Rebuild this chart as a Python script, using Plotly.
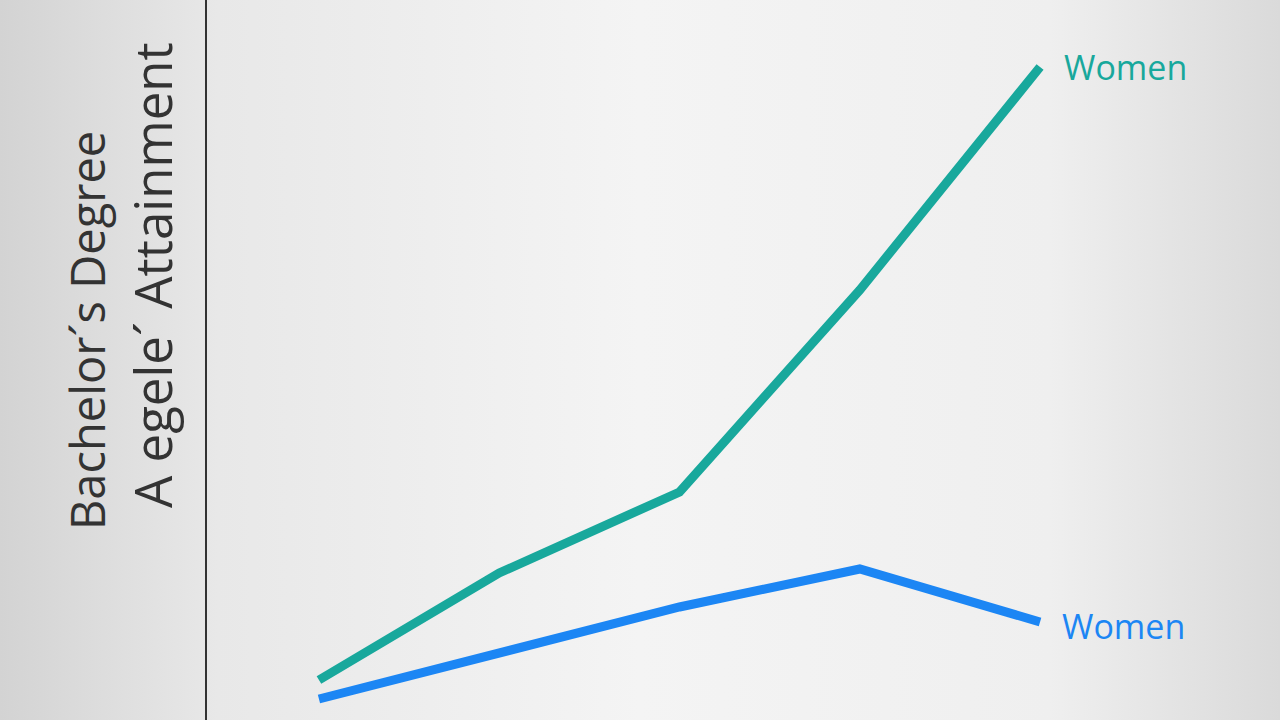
import plotly.graph_objects as go

years = [1970, 1980, 1990, 2000, 2010]
women_top = [2.0, 7.35, 11.4, 21.5, 32.65]
women_bottom = [1.05, 3.4, 5.65, 7.55, 4.9]
series_label = "Women"
title_line1 = "Bachelor´s Degree"
title_line2 = "A egele´ Attainment"

teal = "#18a89c"
blue = "#1c86f4"

fig = go.Figure()

# background: full-page horizontal gradient on the first (full-size) axes
fig.add_trace(go.Scatter(
    x=[0, 1, 1, 0, 0], y=[0, 0, 1, 1, 0],
    xaxis="x", yaxis="y", mode="lines", line=dict(width=0),
    fill="toself", hoverinfo="skip", showlegend=False,
    fillgradient=dict(type="horizontal", colorscale=[
        [0, "#d3d3d3"], [0.17, "#e8e8e8"], [0.5, "#f4f4f4"],
        [0.82, "#efefef"], [1, "#dadada"]]),
))

fig.add_trace(go.Scatter(x=years, y=women_top, xaxis="x2", yaxis="y2",
                         mode="lines", line=dict(color=teal, width=9),
                         showlegend=False))
fig.add_trace(go.Scatter(x=years, y=women_bottom, xaxis="x2", yaxis="y2",
                         mode="lines", line=dict(color=blue, width=9),
                         showlegend=False))

fig.add_annotation(x=years[-1], y=women_top[-1], xref="x2", yref="y2",
                   text=series_label, showarrow=False, xanchor="left",
                   xshift=22, font=dict(family="Open Sans", size=34, color=teal))
fig.add_annotation(x=years[-1], y=women_bottom[-1], xref="x2", yref="y2",
                   text=series_label, showarrow=False, xanchor="left",
                   xshift=20, yshift=-4, font=dict(family="Open Sans", size=34, color=blue))

# axis title, two lines placed by pixel centre
fig.add_annotation(x=87 / 1280, y=1 - 331 / 720, xref="paper", yref="paper",
                   text=title_line1, showarrow=False, textangle=-90,
                   xanchor="center", yanchor="middle",
                   font=dict(family="Open Sans", size=47, color="#333333"))
fig.add_annotation(x=152 / 1280, y=1 - 275 / 720, xref="paper", yref="paper",
                   text=title_line2, showarrow=False, textangle=-90,
                   xanchor="center", yanchor="middle",
                   font=dict(family="Open Sans", size=51, color="#333333"))

fig.update_layout(
    width=1280, height=720,
    margin=dict(l=0, r=0, t=0, b=0),
    paper_bgcolor="#eeeeee", plot_bgcolor="rgba(0,0,0,0)",
    xaxis=dict(domain=[0, 1], range=[0, 1], visible=False, fixedrange=True),
    yaxis=dict(domain=[0, 1], range=[0, 1], visible=False, fixedrange=True),
    xaxis2=dict(domain=[207 / 1280, 1], range=[1963.79, 2023.31], anchor="y2",
                showgrid=False, zeroline=False, showticklabels=False, ticks=""),
    yaxis2=dict(domain=[0, 1], range=[0, 36], anchor="x2",
                showgrid=False, zeroline=False, showticklabels=False, ticks="",
                showline=True, linecolor="#333333", linewidth=2),
)

fig.write_html("out.html", config={"displayModeBar": False},
               post_script="document.body.style.margin='0';")
